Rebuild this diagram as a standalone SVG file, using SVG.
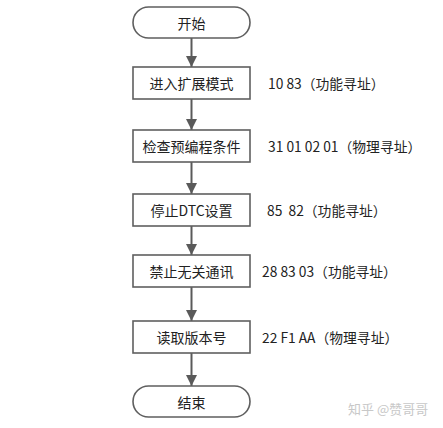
<svg xmlns="http://www.w3.org/2000/svg" width="443" height="428" viewBox="0 0 443 428">
<defs>
<style>
.box{fill:#fff;stroke:#5f5f5f;stroke-width:1.6}
.t{font-family:"Noto Sans CJK SC","Liberation Sans",sans-serif;font-size:14px;fill:#222;text-anchor:middle;dominant-baseline:central}
.l{font-family:"Noto Sans CJK SC","Liberation Sans",sans-serif;font-size:13.8px;fill:#222;dominant-baseline:central}
.c{stroke:#5a5a5a;stroke-width:2;fill:none;marker-end:url(#ah)}
.wm{font-family:"Noto Sans CJK SC",sans-serif;font-size:13px;fill:#c8c8c8;dominant-baseline:central}
</style>
<marker id="ah" viewBox="0 0 10 10" refX="10" refY="5" markerWidth="5.5" markerHeight="5.5" orient="auto" markerUnits="strokeWidth">
<path d="M0,0 L10,5 L0,10 z" fill="#5a5a5a"/>
</marker>
</defs>
<rect width="443" height="428" fill="#fff"/>
<g id="connectors">
<line class="c" x1="191.5" y1="38" x2="191.5" y2="67"/>
<line class="c" x1="191.5" y1="99" x2="191.5" y2="130"/>
<line class="c" x1="191.5" y1="162" x2="191.5" y2="194"/>
<line class="c" x1="191.5" y1="226" x2="191.5" y2="255"/>
<line class="c" x1="191.5" y1="287" x2="191.5" y2="321"/>
<line class="c" x1="191.5" y1="353" x2="191.5" y2="386"/>
</g>
<g id="start">
<rect class="box" x="133" y="7" width="117" height="31" rx="15.5"/>
<text class="t" x="191.5" y="22.5">开始</text>
</g>
<g id="n1">
<rect class="box" x="133" y="67" width="117" height="32"/>
<text class="t" x="191.5" y="83">进入扩展模式</text>
<text class="l" x="268" y="83">10 83（功能寻址）</text>
</g>
<g id="n2">
<rect class="box" x="133" y="130" width="117" height="32"/>
<text class="t" x="191.5" y="146">检查预编程条件</text>
<text class="l" x="268" y="146">31 01 02 01（物理寻址）</text>
</g>
<g id="n3">
<rect class="box" x="133" y="194" width="117" height="32"/>
<text class="t" x="191.5" y="210">停止DTC设置</text>
<text class="l" x="267" y="210">85&#160; 82（功能寻址）</text>
</g>
<g id="n4">
<rect class="box" x="133" y="255" width="117" height="32"/>
<text class="t" x="191.5" y="271">禁止无关通讯</text>
<text class="l" x="262" y="271">28 83 03（功能寻址）</text>
</g>
<g id="n5">
<rect class="box" x="133" y="321" width="117" height="32"/>
<text class="t" x="191.5" y="337">读取版本号</text>
<text class="l" x="262" y="337">22 F1 AA（物理寻址）</text>
</g>
<g id="end">
<rect class="box" x="133" y="386" width="117" height="31" rx="15.5"/>
<text class="t" x="191.5" y="401.5">结束</text>
</g>
<text class="wm" x="348" y="408">知乎 @赞哥哥</text>
</svg>
